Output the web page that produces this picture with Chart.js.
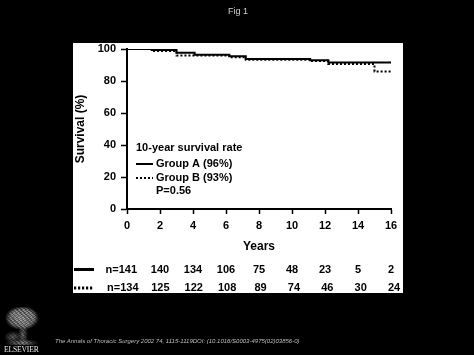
<!DOCTYPE html>
<html>
<head>
<meta charset="utf-8">
<script src="https://cdn.jsdelivr.net/npm/chart.js@4/dist/chart.umd.min.js"></script>
<style>
  html, body { margin: 0; padding: 0; background: #000; width: 474px; height: 355px; overflow: hidden; }
  #wrap { position: relative; width: 474px; height: 355px; }
  #c { position: absolute; left: 0; top: 0; }
  #fig { position: absolute; left: 1px; width: 474px; top: 6px; text-align: center; color: #cfcfcf; font: 9px 'Liberation Sans', Arial, sans-serif; }
  #cite { position: absolute; left: 55px; top: 338px; color: #bdbdbd; font: italic 6px 'Liberation Sans', Arial, sans-serif; white-space: nowrap; }
  #logo { position: absolute; left: 5px; top: 307px; width: 33px; height: 38px;
    background:
      repeating-linear-gradient(45deg, rgba(0,0,0,0.35) 0px, rgba(0,0,0,0.35) 1px, rgba(0,0,0,0) 1px, rgba(0,0,0,0) 3px),
      repeating-linear-gradient(-30deg, rgba(0,0,0,0.3) 0px, rgba(0,0,0,0.3) 1px, rgba(0,0,0,0) 1px, rgba(0,0,0,0) 2px),
      radial-gradient(ellipse 17px 12px at 17px 11px, #a8a8a8 0%, #8a8a8a 70%, rgba(0,0,0,0) 100%),
      radial-gradient(ellipse 5px 14px at 18px 27px, #7a7a7a 0%, rgba(0,0,0,0) 100%),
      radial-gradient(ellipse 9px 6px at 8px 30px, #777 0%, rgba(0,0,0,0) 100%),
      radial-gradient(ellipse 17px 4px at 17px 36px, #9a9a9a 0%, rgba(0,0,0,0) 100%);
  }
  #els { position: absolute; left: 4px; top: 345px; color: #e8e8e8; font: 7.6px 'Liberation Serif', 'Times New Roman', serif; letter-spacing: -0.15px; }
</style>
</head>
<body>
<div id="wrap">
  <canvas id="c" width="474" height="355"></canvas>
  <div id="fig">Fig 1</div>
  <div id="logo"></div>
  <div id="els">ELSEVIER</div>
  <div id="cite">The Annals of Thoracic Surgery 2002 74, 1115-1119DOI: (10.1016/S0003-4975(02)03856-0)</div>
</div>
<script>
// ---- data ----
const groupATimes  = [0, 1.5, 3.0, 4.1, 6.2, 7.2, 11.1, 12.2, 16];
const groupASurv   = [100, 99.4, 97.7, 96.4, 95.4, 93.8, 93.0, 91.6, 91.6];
const groupBTimes  = [0, 1.5, 3.0, 6.2, 7.2, 11.1, 12.2, 15.0, 16];
const groupBSurv   = [100, 98.8, 95.9, 94.8, 93.3, 92.5, 90.6, 86.0, 86.0];
const riskYears    = [0, 2, 4, 6, 8, 10, 12, 14, 16];
const riskA        = [141, 140, 134, 106, 75, 48, 23, 5, 2];
const riskB        = [134, 125, 122, 108, 89, 74, 46, 30, 24];
const yTicks       = [0, 20, 40, 60, 80, 100];
const legendTitle  = '10-year survival rate';
const legendA      = 'Group A (96%)';
const legendB      = 'Group B (93%)';
const pValueText   = 'P=0.56';

const FONT = "'Liberation Sans', Arial, sans-serif";

const toPts = (t, s) => t.map((x, i) => ({ x: x, y: s[i] }));

const bgPlugin = {
  id: 'bg',
  beforeDraw(chart) {
    const ctx = chart.ctx;
    ctx.save();
    ctx.fillStyle = '#000';
    ctx.fillRect(0, 0, chart.width, chart.height);
    ctx.fillStyle = '#fff';
    ctx.fillRect(73, 43, 330, 250);
    ctx.restore();
  }
};

const extrasPlugin = {
  id: 'extras',
  afterDraw(chart) {
    const ctx = chart.ctx;
    const xs = chart.scales.x;
    ctx.save();
    ctx.fillStyle = '#000';
    ctx.strokeStyle = '#000';
    ctx.font = 'bold 11px ' + FONT;
    ctx.textBaseline = 'middle';

    // legend inside plot
    ctx.textAlign = 'left';
    ctx.fillText(legendTitle, 136, 148);
    ctx.lineWidth = 2;
    ctx.setLineDash([]);
    ctx.beginPath(); ctx.moveTo(136, 164); ctx.lineTo(153, 164); ctx.stroke();
    ctx.fillText(legendA, 156, 164);
    ctx.setLineDash([2, 2]);
    ctx.beginPath(); ctx.moveTo(136, 178); ctx.lineTo(153, 178); ctx.stroke();
    ctx.setLineDash([]);
    ctx.fillText(legendB, 156, 178);
    ctx.fillText(pValueText, 156, 191);

    // number at risk rows
    const rows = [
      { y: 269.5, vals: riskA, dash: [], shift: 0 },
      { y: 288, vals: riskB, dash: [2.2, 1.8], shift: 1.5 }
    ];
    rows.forEach((r, ri) => {
      ctx.lineWidth = 3;
      ctx.setLineDash(r.dash);
      ctx.beginPath(); ctx.moveTo(74, r.y); ctx.lineTo(ri === 0 ? 94 : 93, r.y); ctx.stroke();
      ctx.setLineDash([]);
      r.vals.forEach((v, i) => {
        const px = xs.getPixelForValue(riskYears[i]);
        if (i === 0) {
          ctx.textAlign = 'right';
          ctx.fillText('n=' + v, px + 10 + r.shift, r.y);
        } else {
          ctx.textAlign = 'center';
          ctx.fillText(String(v), px + r.shift * (i / 4), r.y);
        }
      });
    });
    ctx.restore();
  }
};

new Chart(document.getElementById('c'), {
  type: 'line',
  data: {
    datasets: [
      {
        label: 'Group A',
        data: toPts(groupATimes, groupASurv),
        stepped: true,
        borderColor: '#000',
        borderWidth: 2,
        pointRadius: 0,
        fill: false
      },
      {
        label: 'Group B',
        data: toPts(groupBTimes, groupBSurv),
        stepped: true,
        borderColor: '#000',
        borderWidth: 2,
        borderDash: [2, 2],
        pointRadius: 0,
        fill: false
      }
    ]
  },
  options: {
    responsive: false,
    devicePixelRatio: 1,
    animation: false,
    events: [],
    layout: { padding: { left: 73.8, top: 49, right: 83, bottom: 100.8 } },
    plugins: { legend: { display: false }, tooltip: { enabled: false }, title: { display: false } },
    scales: {
      x: {
        type: 'linear',
        min: 0, max: 16,
        ticks: { stepSize: 2, color: '#000', font: { family: FONT, size: 11, weight: 'bold' }, padding: 5, maxRotation: 0 },
        grid: { drawOnChartArea: false, drawTicks: true, tickLength: 5, tickColor: '#000', tickWidth: 1.5 },
        border: { color: '#000', width: 2 },
        title: { display: true, text: 'Years', color: '#000', font: { family: FONT, size: 12, weight: 'bold', lineHeight: 1.2 }, padding: 0 },
        afterFit(s) { s.height = 45.2; }
      },
      y: {
        min: 0, max: 100,
        afterBuildTicks(s) { s.ticks = yTicks.map(v => ({ value: v })); },
        ticks: { color: '#000', font: { family: FONT, size: 11, weight: 'bold' }, padding: 5 },
        grid: { drawOnChartArea: false, drawTicks: true, tickLength: 6, tickColor: '#000', tickWidth: 1.5 },
        border: { color: '#000', width: 2 },
        title: { display: true, text: 'Survival (%)', color: '#000', font: { family: FONT, size: 12, weight: 'bold', lineHeight: 1.2 }, padding: 0 },
        afterFit(s) { s.width = 53.2; }
      }
    }
  },
  plugins: [bgPlugin, extrasPlugin]
});
</script>
</body>
</html>
